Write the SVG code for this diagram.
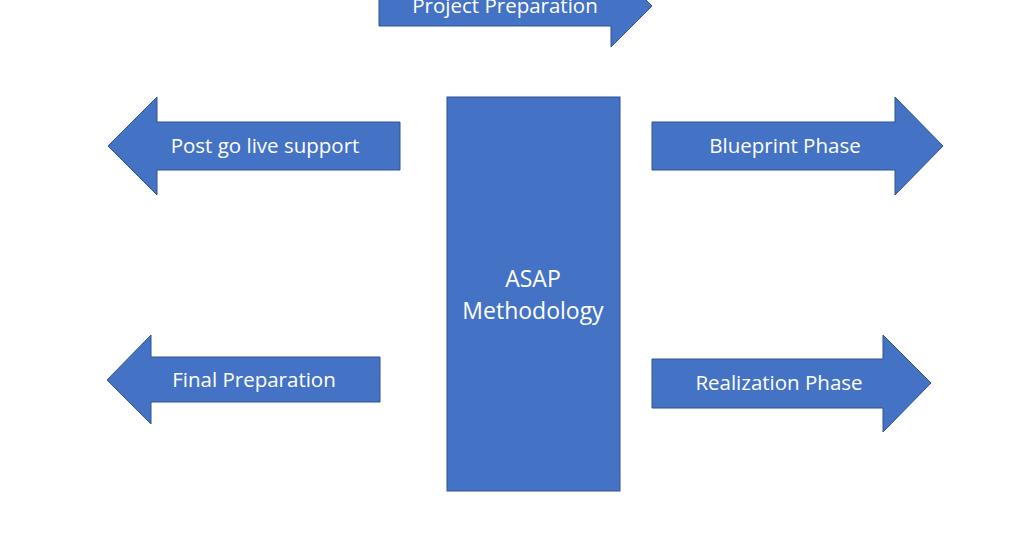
<svg xmlns="http://www.w3.org/2000/svg" width="1022" height="537" viewBox="0 0 1022 537">
<style>
.s{fill:#4472C4;stroke:#2F528F;stroke-width:1}
.t{fill:#fff;font-family:"Open Sans","Liberation Sans",sans-serif;font-size:20.5px;text-anchor:middle}
.b{font-size:23px}
</style>
<rect width="1022" height="537" fill="#fff"/>
<g id="project"><polygon class="s" points="379,-14 611,-14 611,-35 652,6 611,47 611,26 379,26"/><text class="t" x="505" y="13">Project Preparation</text></g>
<g id="postgolive"><polygon class="s" points="400,122 157,122 157,97 108,146 157,195 157,170 400,170"/><text class="t" x="265" y="153">Post go live support</text></g>
<g id="blueprint"><polygon class="s" points="652,122 895,122 895,97 943,146 895,195 895,170 652,170"/><text class="t" x="785" y="153">Blueprint Phase</text></g>
<g id="final"><polygon class="s" points="380,357 151,357 151,335 107,380 151,424 151,402 380,402"/><text class="t" x="254" y="387">Final Preparation</text></g>
<g id="realization"><polygon class="s" points="652,359 883,359 883,335 931,383 883,432 883,408 652,408"/><text class="t" x="779" y="390">Realization Phase</text></g>
<g id="asap"><rect class="s" x="447" y="97" width="173" height="394"/><text class="t b" x="533" y="287">ASAP</text><text class="t b" x="533" y="319">Methodology</text></g>
<g id="connectors"/>
</svg>
